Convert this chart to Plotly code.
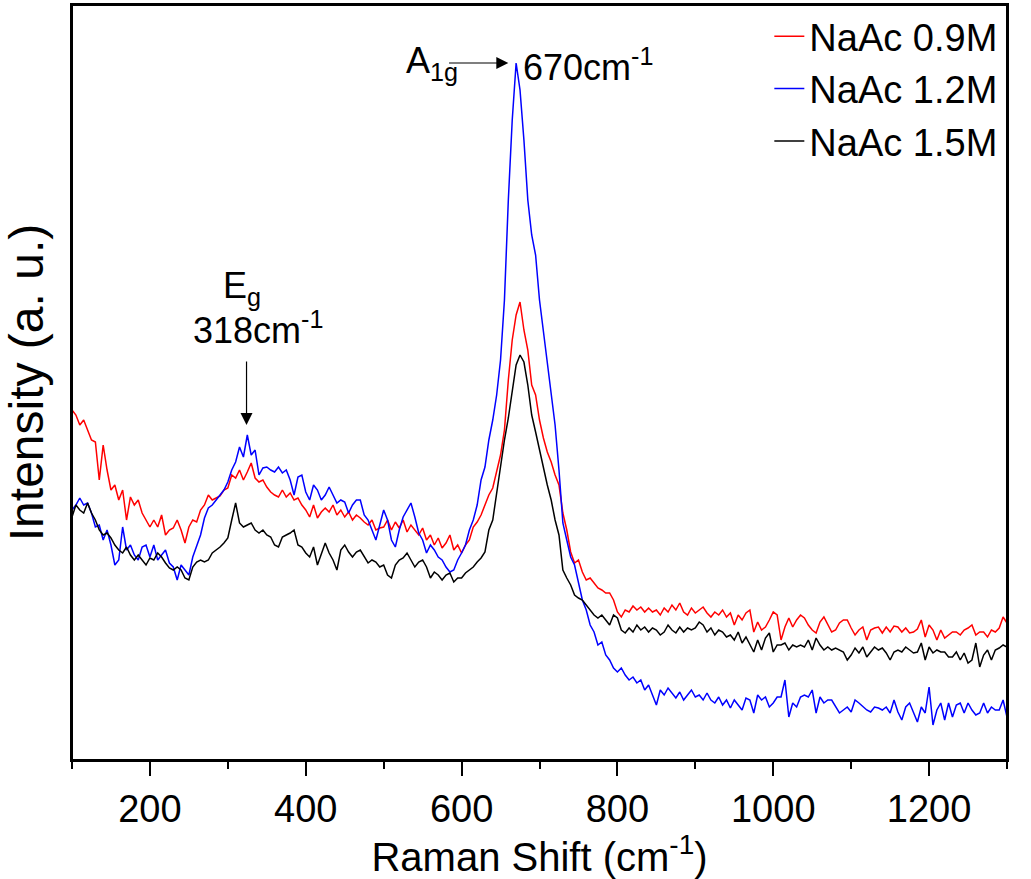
import plotly.graph_objects as go

# Raman shift grid (cm^-1), every 5 cm^-1 from 100 to 1300
raman_shift = list(range(100, 1301, 5))

# Intensities (arbitrary units)
naac_09 = [
    350, 345, 335, 340, 330, 320, 318, 280, 315, 290,
    270, 275, 260, 270, 240, 263, 255, 260, 247, 240,
    233, 240, 233, 245, 225, 230, 232, 240, 230, 217,
    233, 240, 238, 250, 255, 265, 260, 262, 264, 270,
    272, 285, 282, 290, 280, 288, 297, 282, 278, 280,
    273, 268, 265, 263, 270, 263, 267, 260, 262, 255,
    250, 243, 255, 242, 248, 252, 248, 255, 245, 250,
    243, 248, 240, 245, 242, 238, 235, 240, 230, 232,
    233, 240, 230, 238, 232, 240, 228, 235, 230, 225,
    232, 220, 225, 215, 222, 212, 217, 225, 210, 215,
    207, 215, 220, 233, 238, 245, 255, 265, 272, 290,
    305, 330, 380, 420, 445, 458, 430, 410, 375, 365,
    340, 322, 308, 298, 285, 275, 247, 230, 208, 197,
    200, 188, 180, 182, 177, 172, 170, 167, 167, 160,
    148, 143, 150, 148, 154, 150, 153, 148, 152, 148,
    150, 145, 152, 148, 155, 150, 157, 148, 145, 152,
    147, 150, 153, 147, 143, 148, 145, 150, 143, 147,
    135, 145, 140, 147, 150, 128, 138, 130, 133, 140,
    148, 145, 120, 133, 142, 133, 140, 145, 142, 135,
    130, 127, 138, 143, 135, 128, 130, 137, 140, 140,
    132, 125, 130, 133, 120, 130, 132, 133, 127, 133,
    128, 134, 133, 128, 132, 127, 128, 131, 140, 123,
    135, 130, 120, 130, 122, 125, 128, 128, 125, 130,
    132, 135, 125, 128, 128, 123, 130, 128, 132, 143,
    137,
]

naac_12 = [
    250, 255, 262, 255, 257, 247, 233, 235, 220, 230,
    215, 195, 200, 233, 210, 215, 205, 200, 213, 215,
    203, 215, 200, 205, 210, 197, 193, 180, 195, 190,
    185, 203, 213, 225, 242, 252, 255, 260, 265, 270,
    278, 290, 298, 313, 303, 325, 305, 310, 285, 292,
    293, 290, 288, 293, 287, 290, 280, 265, 283, 285,
    268, 260, 275, 270, 260, 265, 273, 265, 257, 260,
    258, 247, 255, 260, 260, 245, 240, 230, 220, 235,
    250, 240, 220, 213, 230, 243, 250, 257, 243, 227,
    220, 207, 215, 210, 203, 200, 193, 188, 190, 200,
    207, 215, 230, 240, 255, 280, 293, 320, 340, 365,
    400, 460, 560, 640, 697, 670, 620, 560, 525, 505,
    460, 430, 395, 365, 335, 290, 237, 220, 203, 195,
    177, 160, 150, 135, 128, 115, 118, 105, 100, 92,
    88, 92, 85, 80, 83, 77, 80, 70, 75, 65,
    55, 70, 65, 72, 67, 62, 68, 60, 65, 70,
    63, 65, 60, 67, 60, 57, 63, 55, 60, 52,
    60, 55, 50, 62, 60, 47, 65, 60, 63, 53,
    57, 63, 63, 80, 43, 57, 53, 63, 65, 63,
    70, 47, 63, 57, 60, 60, 53, 47, 50, 53,
    48, 60, 57, 53, 50, 48, 53, 52, 50, 53,
    47, 60, 48, 40, 53, 57, 48, 38, 53, 47,
    73, 35, 50, 57, 40, 57, 43, 55, 57, 47,
    57, 50, 45, 47, 57, 47, 53, 50, 50, 60,
    43,
]

naac_15 = [
    243, 255, 250, 247, 257, 247, 240, 230, 225, 227,
    222, 215, 210, 207, 213, 205, 200, 205, 200, 195,
    202, 200, 207, 203, 197, 192, 190, 193, 190, 182,
    180, 193, 198, 200, 198, 200, 207, 210, 213, 217,
    222, 240, 257, 237, 233, 235, 237, 230, 227, 230,
    225, 223, 215, 213, 223, 225, 227, 230, 215, 213,
    207, 203, 213, 195, 205, 217, 207, 200, 190, 210,
    215, 208, 203, 208, 210, 203, 197, 200, 198, 193,
    195, 185, 182, 195, 200, 202, 207, 200, 193, 198,
    200, 193, 182, 188, 185, 180, 185, 187, 178, 182,
    182, 187, 190, 193, 198, 202, 208, 230, 240, 267,
    295, 320, 342, 370, 395, 405, 398, 375, 345, 328,
    310, 295, 275, 260, 240, 225, 190, 182, 175, 165,
    162, 160, 155, 150, 145, 142, 145, 140, 135, 145,
    142, 130, 127, 132, 128, 135, 130, 133, 128, 132,
    130, 125, 128, 135, 130, 127, 133, 128, 132, 130,
    132, 138, 135, 128, 132, 125, 130, 128, 123, 125,
    120, 128, 117, 123, 115, 108, 120, 110, 122, 127,
    108, 115, 115, 117, 110, 115, 113, 115, 113, 120,
    110, 122, 115, 110, 113, 110, 112, 110, 108, 100,
    105, 112, 107, 113, 103, 108, 113, 110, 112, 107,
    100, 108, 110, 108, 113, 110, 107, 108, 117, 100,
    113, 107, 110, 108, 108, 103, 103, 108, 100, 107,
    97, 100, 117, 93, 105, 110, 100, 110, 112, 115,
    113,
]

series_names = ["NaAc 0.9M", "NaAc 1.2M", "NaAc 1.5M"]
series_values = [naac_09, naac_12, naac_15]
series_colors = ["#FF0000", "#0000FF", "#000000"]

x_tick_values = [200, 400, 600, 800, 1000, 1200]

FONT = "Liberation Sans, Arial, Helvetica, sans-serif"

fig = go.Figure()
for name, vals, col in zip(series_names, series_values, series_colors):
    fig.add_trace(go.Scatter(
        x=raman_shift, y=vals, mode="lines", name=name,
        line=dict(color=col, width=1.5),
    ))

fig.update_layout(
    width=1031, height=879,
    margin=dict(l=72, r=24, t=5, b=119, autoexpand=False),
    paper_bgcolor="white", plot_bgcolor="white",
    font=dict(family=FONT, size=38, color="black"),
    showlegend=True,
    legend=dict(
        x=0.995, y=1.0, xanchor="right", yanchor="top",
        bgcolor="rgba(0,0,0,0)", borderwidth=0,
        font=dict(family=FONT, size=38, color="black"),
        itemwidth=30, tracegroupgap=0,
    ),
    shapes=[dict(type="rect", xref="paper", yref="paper", x0=0, x1=1, y0=0, y1=1,
                 line=dict(color="black", width=2), fillcolor="rgba(0,0,0,0)", layer="above")],
)

fig.update_xaxes(
    range=[100, 1300], showgrid=False, zeroline=False,
    showline=True, linecolor="black", linewidth=2, mirror=True,
    tickmode="array", tickvals=x_tick_values,
    ticks="outside", ticklen=14, tickwidth=2, tickcolor="black",
    minor=dict(dtick=100, tick0=100, ticks="outside", ticklen=7, tickwidth=2, tickcolor="black"),
    tickfont=dict(family=FONT, size=38, color="black"),
    title=dict(text="Raman Shift (cm<sup>-1</sup>)", font=dict(family=FONT, size=40, color="black"), standoff=16),
)
fig.update_yaxes(
    range=[0, 755], showgrid=False, zeroline=False,
    showline=True, linecolor="black", linewidth=2, mirror=True,
    showticklabels=False, ticks="",
    title=dict(text="Intensity (a. u.)", font=dict(family=FONT, size=48, color="black"), standoff=12),
)

ann_font = dict(family=FONT, size=36, color="black")
# A1g label and arrow
fig.add_annotation(x=562, y=697, xref="x", yref="y", text="A<sub>1g</sub>", showarrow=False, font=ann_font)
fig.add_annotation(x=660, y=697, ax=582, ay=697, xref="x", yref="y", axref="x", ayref="y",
                   text="", showarrow=True, arrowhead=2, arrowsize=2, arrowwidth=1.2, arrowcolor="black", standoff=0)
fig.add_annotation(x=762, y=695, xref="x", yref="y", text="670cm<sup>-1</sup>", showarrow=False, font=ann_font)
# Eg label and arrow
fig.add_annotation(x=318, y=472, xref="x", yref="y", text="E<sub>g</sub>", showarrow=False, font=ann_font)
fig.add_annotation(x=339, y=432, xref="x", yref="y", text="318cm<sup>-1</sup>", showarrow=False, font=ann_font)
fig.add_annotation(x=324, y=335, ax=324, ay=400, xref="x", yref="y", axref="x", ayref="y",
                   text="", showarrow=True, arrowhead=2, arrowsize=2, arrowwidth=1.2, arrowcolor="black", standoff=0)

fig.write_html("out.html")
